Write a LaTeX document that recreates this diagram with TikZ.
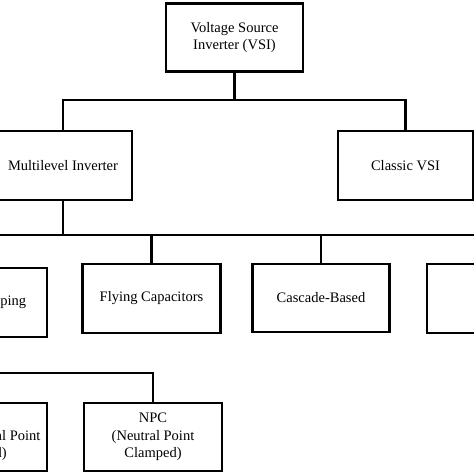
\documentclass[tikz,border=0pt]{standalone}
\usepackage{fontspec}
\setmainfont{Liberation Serif}
\begin{document}
\begin{tikzpicture}[x=1pt,y=-1pt,
  box/.style={draw=black, line width=2.8pt, fill=white, rectangle, inner sep=0pt,
    minimum width=137pt, minimum height=68pt, align=center,
    font=\fontsize{14.5}{17.5}\selectfont},
  wire/.style={draw=black, line width=2.8pt}]
\useasboundingbox (0,0) rectangle (474,474);
\clip (0,0) rectangle (474,474);
% nodes
\node[box] (vsi) at (234.5,37.5) {Voltage Source\\Inverter (VSI)};
\node[box, minimum width=138pt, minimum height=69pt] (ml) at (63,165.5) {Multilevel Inverter};
\node[box, minimum width=135pt, minimum height=69pt] (classic) at (405.5,165.5) {Classic VSI};
\node[box, minimum width=138pt, minimum height=69pt] (diode) at (-22,302.5) {Diode Clamping};
\node[box, minimum width=138pt, minimum height=69pt] (flying) at (151.5,298.5) {Flying Capacitors};
\node[box, minimum width=137pt, minimum height=68pt] (cascade) at (321,298) {Cascade-Based};
\node[box, minimum width=138pt, minimum height=69pt] (fourth) at (496,298.5) {};
\node[box, minimum width=138pt, minimum height=68pt] (anpc) at (-22,437) {ANPC\\(Active Neutral Point\\Clamped)};
\node[box, minimum width=138pt, minimum height=68pt] (npc) at (153,437) {NPC\\(Neutral Point\\Clamped)};
% junctions
\coordinate (j1) at (234.5,100);
\coordinate (j2) at (63,235);
\coordinate (j3) at (-22,373);
% connectors
\draw[wire] (vsi.south) -- (j1);
\draw[wire] (j1) -| (ml.north);
\draw[wire] (j1) -| (classic.north);
\draw[wire] (ml.south) -- (j2);
\draw[wire] (j2) -| (diode.north);
\draw[wire] (j2) -| (flying.north);
\draw[wire] (j2) -| (cascade.north);
\draw[wire] (j2) -| (fourth.north);
\draw[wire] (diode.south) -- (j3);
\draw[wire] (j3) -- (anpc.north);
\draw[wire] (j3) -| (npc.north);
\end{tikzpicture}
\end{document}
